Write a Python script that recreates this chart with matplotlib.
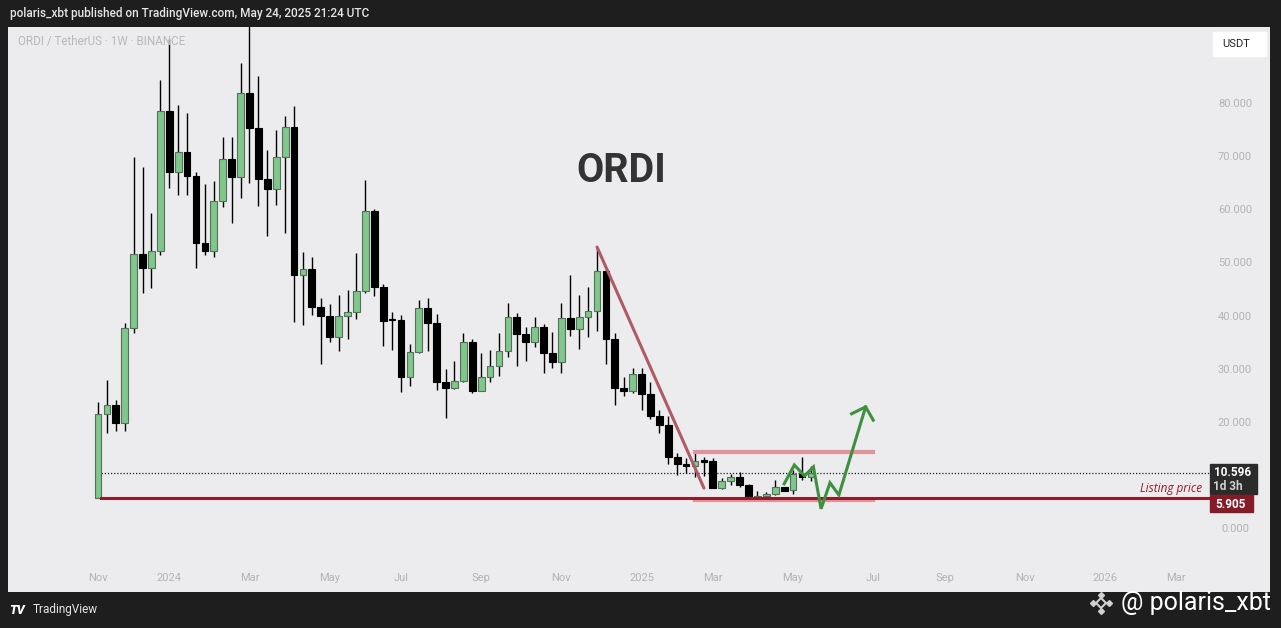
import matplotlib.pyplot as plt
import numpy as np
import pandas as pd

W, H = 1281, 628

# weekly candles ORDI/USDT, first week Nov 6 2023
start = pd.Timestamp("2023-11-06")
opens = [5.9, 21.7, 23.4, 20.0, 37.9, 51.8, 49.2, 52.4, 78.7, 67.2,
         71.0, 66.5, 53.9, 52.4, 61.8, 69.7, 66.3, 82.1, 75.6, 66.0,
         64.0, 70.1, 75.8, 47.8, 49.0, 41.8, 40.1, 36.2, 40.1, 40.9,
         44.8, 59.9, 45.6, 39.5, 39.3, 28.6, 33.3, 41.6, 38.8, 27.7,
         26.6, 27.9, 35.2, 26.0, 28.6, 30.7, 33.5, 39.9, 36.7, 35.2,
         38.0, 33.1, 31.4, 39.7, 37.7, 39.9, 41.1, 48.6, 35.8, 26.6,
         26.0, 29.2, 25.4, 21.2, 19.5, 13.6, 12.2, 11.9, 12.8, 12.9,
         7.8, 9.0, 9.8, 8.2, 5.8, 6.2, 6.6, 7.9, 7.3, 10.4, 9.8]
highs = [23.9, 28.1, 24.3, 38.8, 70.1, 68.2, 59.5, 84.6, 92.3, 79.8,
         78.3, 67.2, 65.0, 65.5, 73.8, 73.8, 87.8, 96.0, 85.3, 71.4,
         75.1, 77.8, 79.7, 52.2, 51.2, 43.5, 42.4, 44.1, 45.0, 52.0,
         65.7, 60.3, 46.1, 40.9, 40.3, 34.8, 43.1, 43.5, 40.5, 30.1,
         31.6, 36.9, 35.8, 33.1, 33.7, 36.9, 42.6, 40.7, 38.0, 39.9,
         38.6, 37.1, 42.6, 47.8, 44.1, 45.6, 53.1, 48.8, 36.9, 28.6,
         30.3, 30.3, 27.7, 22.4, 21.3, 14.3, 13.4, 14.5, 13.6, 13.4,
         9.6, 10.4, 10.7, 8.5, 7.2, 7.0, 9.2, 7.9, 11.1, 13.6, 11.9]
lows = [5.9, 18.1, 18.5, 18.5, 36.9, 44.4, 45.4, 51.6, 64.2, 62.9,
        62.9, 49.2, 51.6, 51.2, 60.6, 57.6, 62.3, 65.2, 60.8, 55.2,
        61.0, 55.7, 39.0, 38.4, 40.3, 31.1, 35.2, 33.5, 35.8, 39.5,
        44.4, 43.9, 34.5, 33.7, 25.8, 26.9, 33.1, 33.5, 26.2, 20.9,
        26.4, 27.7, 25.6, 26.0, 27.7, 28.8, 32.4, 30.7, 31.6, 34.3,
        29.4, 30.3, 29.4, 36.3, 33.9, 36.2, 37.3, 31.1, 23.4, 25.0,
        25.6, 22.4, 20.7, 18.1, 12.2, 10.2, 10.5, 9.8, 10.0, 7.7,
        7.5, 8.3, 7.9, 5.6, 5.5, 5.6, 6.4, 7.2, 6.6, 9.2, 9.0]
closes = [21.7, 23.4, 20.0, 37.9, 51.8, 49.2, 52.4, 78.7, 67.2, 71.0,
          66.5, 53.9, 52.4, 61.8, 69.7, 66.3, 82.1, 75.6, 66.0, 64.0,
          70.1, 75.8, 47.8, 49.0, 41.8, 40.1, 36.2, 40.1, 40.9, 44.8,
          59.9, 45.6, 39.2, 39.3, 28.6, 33.3, 41.6, 38.8, 27.7, 26.6,
          27.9, 35.2, 26.0, 28.6, 30.7, 33.5, 39.9, 36.7, 35.2, 38.0,
          33.1, 31.4, 39.7, 37.7, 39.9, 41.1, 48.6, 35.8, 26.6, 26.0,
          29.2, 25.4, 21.2, 19.5, 13.6, 12.2, 11.9, 12.8, 12.7, 7.8,
          9.0, 9.8, 8.2, 5.8, 6.2, 6.6, 7.9, 7.2, 10.4, 9.8, 10.596]

last_price = 10.596
listing_price = 5.905
range_top, range_bot = 14.45, 5.46

# drawings (date, price)
trend_pts = [("2024-12-02", 53.1), ("2025-02-24", 7.7)]
range_dates = ["2025-02-17", "2025-07-07"]
arrow_path = [("2025-04-28", 8.5), ("2025-05-06", 12.05), ("2025-05-14", 10.0),
              ("2025-05-21", 11.7), ("2025-05-27", 3.8), ("2025-06-03", 8.7),
              ("2025-06-10", 6.4), ("2025-07-01", 23.0)]
arrow_head = [("2025-06-20", 21.7), ("2025-07-01", 23.0), ("2025-07-07", 20.5)]

tick_dates = ["2023-11-06", "2024-01-01", "2024-03-04", "2024-05-06", "2024-07-01",
              "2024-09-02", "2024-11-04", "2025-01-06", "2025-03-03", "2025-05-05",
              "2025-07-07", "2025-09-01", "2025-11-03", "2026-01-05", "2026-03-02"]
tick_labels = ["Nov", "2024", "Mar", "May", "Jul", "Sep", "Nov", "2025", "Mar",
               "May", "Jul", "Sep", "Nov", "2026", "Mar"]
# 10.000 sits under the last-price box, so it is not shown
price_ticks = [0, 20, 30, 40, 50, 60, 70, 80]


def day(d):
    return (pd.Timestamp(d) - start).days


def fx(x):
    return x / W


def fy(y):
    return 1 - y / H


plt.rcParams['font.family'] = ['Roboto', 'DejaVu Sans']
fig = plt.figure(figsize=(W / 100, H / 100), dpi=100, facecolor='#1e1e1e')
ax = fig.add_axes([fx(8), fy(592), (1270 - 8) / W, (592 - 27) / H])
ax.set_facecolor('#ececee')
px_day = 1.273
ax.set_xlim((8 - 98) / px_day, (1270 - 98) / px_day)
ax.set_ylim((529 - 592) / 5.31, (529 - 27) / 5.31)
ax.set_xticks([])
ax.set_yticks([])
for s in ax.spines.values():
    s.set_visible(False)

x = np.arange(len(opens)) * 7
o = np.array(opens)
c = np.array(closes)
up = c >= o
ax.vlines(x, lows, highs, color='black', lw=1, zorder=3)
body_lo = np.minimum(o, c)
body_h = np.maximum(np.abs(c - o), 0.25)
ax.bar(x[up], body_h[up], bottom=body_lo[up], width=5.3, color='#7fc78b',
       edgecolor='#56705b', lw=0.8, zorder=4)
ax.bar(x[~up], body_h[~up], bottom=body_lo[~up], width=5.3, color='black',
       edgecolor='black', lw=0.8, zorder=4)

x_end = (1210 - 98) / px_day
ax.plot([x[0], x_end], [last_price] * 2, color='#222222', lw=0.9, ls=(0, (1, 1.5)), zorder=2)
ax.plot([x[0] + 2.5, x_end], [listing_price] * 2, color='#8c1d2a', lw=2.2, zorder=5)
ax.text((1202 - 98) / px_day, listing_price + 1.8, "Listing price", color='#8c1d2a',
        style='italic', fontsize=8.5, ha='right', va='center', family=['Open Sans', 'DejaVu Sans'])

ax.plot([day(d) for d, _ in trend_pts], [p for _, p in trend_pts], color='#b05a64',
        lw=2.2, zorder=5, solid_capstyle='round')
rx = [day(d) for d in range_dates]
ax.plot(rx, [range_top] * 2, color='#e0939b', lw=3, zorder=5)
ax.plot(rx, [range_bot] * 2, color='#e0939b', lw=3, zorder=4.5)
ax.plot([day(d) for d, _ in arrow_path], [p for _, p in arrow_path], color='#3e8f3e',
        lw=2.2, zorder=6, solid_joinstyle='miter')
ax.plot([day(d) for d, _ in arrow_head], [p for _, p in arrow_head], color='#3e8f3e',
        lw=2.2, zorder=6)

ax.text(day("2024-12-02") + 19, 67.5, "ORDI", fontsize=28.5, weight='bold', color='#333333',
        ha='center', va='center')

# price scale
lab_x = (1235 - 8) / 1262
for p in price_ticks:
    ax.text(lab_x, p, f"{p:.3f}", transform=ax.get_yaxis_transform(), color='#b3b3b3',
            fontsize=8, ha='center', va='center', zorder=1)

# time scale
for d, lab in zip(tick_dates, tick_labels):
    ax.text(day(d), (529 - 578) / 5.31, lab, color='#b3b3b3', fontsize=8,
            ha='center', va='center')

# price boxes
fig.patches.append(plt.Rectangle((fx(1210), fy(494)), 47 / W, 30 / H, transform=fig.transFigure,
                                 color='#2b2b2b', zorder=10))
fig.patches.append(plt.Rectangle((fx(1210), fy(512)), 43 / W, 17 / H, transform=fig.transFigure,
                                 color='#851b26', zorder=10))
fig.text(fx(1233), fy(472), "10.596", color='white', fontsize=8.5, weight='bold',
         ha='center', va='center', zorder=11)
fig.text(fx(1228), fy(487), "1d 3h", color='#d0d0d0', fontsize=8.5, weight='bold',
         ha='center', va='center', zorder=11)
fig.text(fx(1231), fy(504), "5.905", color='white', fontsize=8.5, weight='bold',
         ha='center', va='center', zorder=11)

# USDT box
fig.patches.append(plt.Rectangle((fx(1213), fy(56)), 53 / W, 24 / H, transform=fig.transFigure,
                                 color='white', zorder=10))
fig.text(fx(1236), fy(44), "USDT", color='#222222', fontsize=8, ha='center', va='center', zorder=11)

# header / footer
fig.text(fx(10), fy(14), "polaris_xbt published on TradingView.com, May 24, 2025 21:24 UTC",
         color='#e6e6e6', fontsize=8.5, weight='medium', ha='left', va='center')
fig.text(fx(18), fy(42), "ORDI / TetherUS · 1W · BINANCE", color='#b8b8b8', fontsize=8.4,
         ha='left', va='center')
fig.text(fx(9), fy(610), "TV", color='white', fontsize=9, weight='black', style='italic',
         ha='left', va='center')
fig.text(fx(33), fy(610), "TradingView", color='#e6e6e6', fontsize=8.5, ha='left', va='center')
fig.text(fx(1121), fy(603), "@ polaris_xbt", color='white', fontsize=18, ha='left', va='center')
bx, by = 1101, 603
fig.lines.append(plt.Line2D([fx(bx)], [fy(by)], marker='D', ms=5, color='#d0d0d0',
                            mfc='none', mew=1.5, transform=fig.transFigure))
for dx, dy in [(-8, 0), (8, 0), (0, -8), (0, 8)]:
    fig.lines.append(plt.Line2D([fx(bx + dx)], [fy(by + dy)], marker='D', ms=3, color='#d0d0d0',
                                transform=fig.transFigure))

fig.savefig("out.png", dpi=100, facecolor=fig.get_facecolor())
